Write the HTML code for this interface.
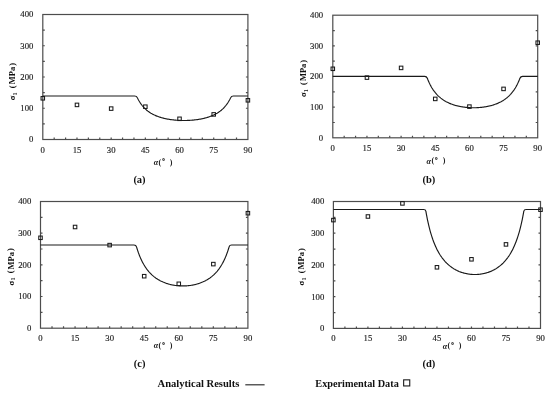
<!DOCTYPE html>
<html><head><meta charset="utf-8"><style>
html,body{margin:0;padding:0;background:#fff;}
svg{display:block;}
.t{font-family:"Liberation Serif",serif;font-size:8.8px;fill:#1a1a1a;stroke:#1a1a1a;stroke-width:0.15px;}
.yt{font-family:"Liberation Serif",serif;font-size:8.5px;font-weight:bold;fill:#111;}
.pr{font-weight:bold;font-size:8.5px;}
.xt{font-family:"Liberation Serif",serif;font-size:8px;font-weight:bold;fill:#222;}
.al{font-family:"Liberation Serif",serif;font-size:8px;font-style:italic;font-weight:bold;fill:#111;}
.deg{font-family:"Liberation Serif",serif;font-size:6.5px;font-weight:bold;fill:#555;stroke:#555;stroke-width:0.6px;}
.lab{font-family:"Liberation Serif",serif;font-size:10.5px;font-weight:bold;fill:#111;}
.leg{font-family:"Liberation Serif",serif;font-size:10.5px;font-weight:bold;fill:#111;}
</style></head><body>
<svg width="550" height="393" viewBox="0 0 550 393">
<rect width="550" height="393" fill="#fff"/>
<rect x="42.80" y="14.50" width="205.10" height="125.00" fill="none" stroke="#4d4d4d" stroke-width="1.2"/>
<path d="M54.19 139.50v-2M65.59 139.50v-2M76.98 139.50v-2M88.38 139.50v-2M99.77 139.50v-2M111.17 139.50v-2M122.56 139.50v-2M133.96 139.50v-2M145.35 139.50v-2M156.74 139.50v-2M168.14 139.50v-2M179.53 139.50v-2M190.93 139.50v-2M202.32 139.50v-2M213.72 139.50v-2M225.11 139.50v-2M236.51 139.50v-2M42.80 123.88h2M247.90 123.88h-2M42.80 108.25h2M247.90 108.25h-2M42.80 92.62h2M247.90 92.62h-2M42.80 77.00h2M247.90 77.00h-2M42.80 61.38h2M247.90 61.38h-2M42.80 45.75h2M247.90 45.75h-2M42.80 30.12h2M247.90 30.12h-2" fill="none" stroke="#4d4d4d" stroke-width="1.2"/>
<text transform="translate(42.80 152.80) scale(0.99 1)" text-anchor="middle" class="t">0</text>
<text transform="translate(76.98 152.80) scale(0.99 1)" text-anchor="middle" class="t">15</text>
<text transform="translate(111.17 152.80) scale(0.99 1)" text-anchor="middle" class="t">30</text>
<text transform="translate(145.35 152.80) scale(0.99 1)" text-anchor="middle" class="t">45</text>
<text transform="translate(179.53 152.80) scale(0.99 1)" text-anchor="middle" class="t">60</text>
<text transform="translate(213.72 152.80) scale(0.99 1)" text-anchor="middle" class="t">75</text>
<text transform="translate(247.90 152.80) scale(0.99 1)" text-anchor="middle" class="t">90</text>
<text transform="translate(33.42 142.45) scale(0.99 1)" text-anchor="end" class="t">0</text>
<text transform="translate(33.42 111.20) scale(0.99 1)" text-anchor="end" class="t">100</text>
<text transform="translate(33.42 79.95) scale(0.99 1)" text-anchor="end" class="t">200</text>
<text transform="translate(33.42 48.70) scale(0.99 1)" text-anchor="end" class="t">300</text>
<text transform="translate(33.42 17.45) scale(0.99 1)" text-anchor="end" class="t">400</text>
<path d="M42.80 96.00L134.57 96.00Q136.57 96.00 137.40 97.82L137.76 98.56L138.36 99.71L138.95 100.78L139.55 101.79L140.15 102.73L140.74 103.62L141.34 104.45L141.94 105.24L142.53 105.98L143.13 106.69L143.73 107.35L144.32 107.98L144.92 108.58L145.52 109.14L146.12 109.68L146.71 110.19L147.31 110.68L147.91 111.15L148.50 111.59L149.10 112.01L149.70 112.42L150.29 112.80L150.89 113.17L151.49 113.52L152.08 113.86L152.68 114.18L153.28 114.49L153.87 114.79L154.47 115.07L155.07 115.35L155.66 115.61L156.26 115.86L156.86 116.10L157.45 116.33L158.05 116.55L158.65 116.76L159.24 116.97L159.84 117.16L160.44 117.35L161.03 117.53L161.63 117.70L162.23 117.87L162.82 118.03L163.42 118.18L164.02 118.32L164.61 118.46L165.21 118.60L165.81 118.73L166.40 118.85L167.00 118.97L167.60 119.08L168.20 119.19L168.79 119.29L169.39 119.38L169.99 119.48L170.58 119.56L171.18 119.65L171.78 119.73L172.37 119.80L172.97 119.87L173.57 119.94L174.16 120.00L174.76 120.06L175.36 120.11L175.95 120.16L176.55 120.21L177.15 120.25L177.74 120.29L178.34 120.33L178.94 120.36L179.53 120.38L180.13 120.41L180.73 120.43L181.32 120.45L181.92 120.46L182.52 120.47L183.11 120.48L183.71 120.48L184.31 120.48L184.90 120.48L185.50 120.47L186.10 120.46L186.69 120.45L187.29 120.43L187.89 120.41L188.48 120.38L189.08 120.36L189.68 120.33L190.28 120.29L190.87 120.25L191.47 120.21L192.07 120.16L192.66 120.11L193.26 120.06L193.86 120.00L194.45 119.94L195.05 119.87L195.65 119.80L196.24 119.73L196.84 119.65L197.44 119.56L198.03 119.48L198.63 119.38L199.23 119.29L199.82 119.19L200.42 119.08L201.02 118.97L201.61 118.85L202.21 118.73L202.81 118.60L203.40 118.46L204.00 118.32L204.60 118.18L205.19 118.03L205.79 117.87L206.39 117.70L206.98 117.53L207.58 117.35L208.18 117.16L208.77 116.97L209.37 116.76L209.97 116.55L210.56 116.33L211.16 116.10L211.76 115.86L212.35 115.61L212.95 115.35L213.55 115.07L214.15 114.79L214.74 114.49L215.34 114.18L215.94 113.86L216.53 113.52L217.13 113.17L217.73 112.80L218.32 112.42L218.92 112.01L219.52 111.59L220.11 111.15L220.71 110.68L221.31 110.19L221.90 109.68L222.50 109.14L223.10 108.58L223.69 107.98L224.29 107.35L224.89 106.69L225.48 105.98L226.08 105.24L226.68 104.45L227.27 103.62L227.87 102.73L228.47 101.79L229.06 100.78L229.66 99.71L230.26 98.56L230.62 97.82Q231.45 96.00 233.45 96.00L247.90 96.00" fill="none" stroke="#1a1a1a" stroke-width="1.15" stroke-linejoin="round"/>
<rect x="41.05" y="96.55" width="3.5" height="3.5" fill="none" stroke="#1a1a1a" stroke-width="1.05"/>
<rect x="75.23" y="103.15" width="3.5" height="3.5" fill="none" stroke="#1a1a1a" stroke-width="1.05"/>
<rect x="109.42" y="106.85" width="3.5" height="3.5" fill="none" stroke="#1a1a1a" stroke-width="1.05"/>
<rect x="143.60" y="104.95" width="3.5" height="3.5" fill="none" stroke="#1a1a1a" stroke-width="1.05"/>
<rect x="177.78" y="117.05" width="3.5" height="3.5" fill="none" stroke="#1a1a1a" stroke-width="1.05"/>
<rect x="211.97" y="112.65" width="3.5" height="3.5" fill="none" stroke="#1a1a1a" stroke-width="1.05"/>
<rect x="246.15" y="98.55" width="3.5" height="3.5" fill="none" stroke="#1a1a1a" stroke-width="1.05"/>
<text transform="translate(15.40 100.20) rotate(-90)" class="yt">σ<tspan font-size="6" dy="1.5" dx="0.2">1</tspan><tspan dy="-2.2" dx="4.2" class="pr">(</tspan><tspan dy="0.7" dx="1.1">MPa</tspan><tspan dx="0.9" dy="-0.7" class="pr">)</tspan></text>
<text x="153.70" y="164.90" class="al">α</text>
<text x="158.60" y="164.65" class="xt">(</text>
<text x="162.20" y="163.20" class="deg">°</text>
<text x="169.85" y="164.65" class="xt">)</text>
<text x="139.50" y="183.00" text-anchor="middle" class="lab">(a)</text>
<rect x="332.80" y="15.20" width="204.90" height="122.60" fill="none" stroke="#4d4d4d" stroke-width="1.2"/>
<path d="M344.18 137.80v-2M355.57 137.80v-2M366.95 137.80v-2M378.33 137.80v-2M389.72 137.80v-2M401.10 137.80v-2M412.48 137.80v-2M423.87 137.80v-2M435.25 137.80v-2M446.63 137.80v-2M458.02 137.80v-2M469.40 137.80v-2M480.78 137.80v-2M492.17 137.80v-2M503.55 137.80v-2M514.93 137.80v-2M526.32 137.80v-2M332.80 122.48h2M537.70 122.48h-2M332.80 107.15h2M537.70 107.15h-2M332.80 91.83h2M537.70 91.83h-2M332.80 76.50h2M537.70 76.50h-2M332.80 61.18h2M537.70 61.18h-2M332.80 45.85h2M537.70 45.85h-2M332.80 30.53h2M537.70 30.53h-2" fill="none" stroke="#4d4d4d" stroke-width="1.2"/>
<text transform="translate(332.80 150.60) scale(0.99 1)" text-anchor="middle" class="t">0</text>
<text transform="translate(366.95 150.60) scale(0.99 1)" text-anchor="middle" class="t">15</text>
<text transform="translate(401.10 150.60) scale(0.99 1)" text-anchor="middle" class="t">30</text>
<text transform="translate(435.25 150.60) scale(0.99 1)" text-anchor="middle" class="t">45</text>
<text transform="translate(469.40 150.60) scale(0.99 1)" text-anchor="middle" class="t">60</text>
<text transform="translate(503.55 150.60) scale(0.99 1)" text-anchor="middle" class="t">75</text>
<text transform="translate(537.70 150.60) scale(0.99 1)" text-anchor="middle" class="t">90</text>
<text transform="translate(323.12 140.75) scale(0.99 1)" text-anchor="end" class="t">0</text>
<text transform="translate(323.12 110.10) scale(0.99 1)" text-anchor="end" class="t">100</text>
<text transform="translate(323.12 79.45) scale(0.99 1)" text-anchor="end" class="t">200</text>
<text transform="translate(323.12 48.80) scale(0.99 1)" text-anchor="end" class="t">300</text>
<text transform="translate(323.12 18.15) scale(0.99 1)" text-anchor="end" class="t">400</text>
<path d="M332.80 76.30L424.64 76.30Q426.64 76.30 427.32 78.18L427.82 79.50L428.41 80.94L429.00 82.30L429.59 83.57L430.18 84.76L430.78 85.89L431.37 86.95L431.96 87.95L432.55 88.90L433.14 89.80L433.73 90.65L434.32 91.46L434.91 92.22L435.50 92.95L436.10 93.65L436.69 94.31L437.28 94.94L437.87 95.54L438.46 96.11L439.05 96.66L439.64 97.18L440.23 97.68L440.82 98.16L441.42 98.62L442.01 99.06L442.60 99.48L443.19 99.88L443.78 100.27L444.37 100.64L444.96 101.00L445.55 101.34L446.14 101.67L446.74 101.98L447.33 102.28L447.92 102.57L448.51 102.85L449.10 103.12L449.69 103.37L450.28 103.62L450.87 103.86L451.46 104.08L452.06 104.30L452.65 104.51L453.24 104.71L453.83 104.90L454.42 105.09L455.01 105.26L455.60 105.43L456.19 105.59L456.78 105.75L457.38 105.90L457.97 106.04L458.56 106.17L459.15 106.30L459.74 106.42L460.33 106.54L460.92 106.65L461.51 106.75L462.10 106.85L462.69 106.94L463.29 107.03L463.88 107.11L464.47 107.19L465.06 107.26L465.65 107.33L466.24 107.39L466.83 107.44L467.42 107.49L468.01 107.54L468.61 107.58L469.20 107.62L469.79 107.65L470.38 107.68L470.97 107.70L471.56 107.72L472.15 107.74L472.74 107.74L473.33 107.75L473.93 107.75L474.52 107.74L475.11 107.74L475.70 107.72L476.29 107.70L476.88 107.68L477.47 107.65L478.06 107.62L478.65 107.58L479.25 107.54L479.84 107.49L480.43 107.44L481.02 107.39L481.61 107.33L482.20 107.26L482.79 107.19L483.38 107.11L483.97 107.03L484.57 106.94L485.16 106.85L485.75 106.75L486.34 106.65L486.93 106.54L487.52 106.42L488.11 106.30L488.70 106.17L489.29 106.04L489.89 105.90L490.48 105.75L491.07 105.59L491.66 105.43L492.25 105.26L492.84 105.09L493.43 104.90L494.02 104.71L494.61 104.51L495.20 104.30L495.80 104.08L496.39 103.86L496.98 103.62L497.57 103.37L498.16 103.12L498.75 102.85L499.34 102.57L499.93 102.28L500.52 101.98L501.12 101.67L501.71 101.34L502.30 101.00L502.89 100.64L503.48 100.27L504.07 99.88L504.66 99.48L505.25 99.06L505.84 98.62L506.44 98.16L507.03 97.68L507.62 97.18L508.21 96.66L508.80 96.11L509.39 95.54L509.98 94.94L510.57 94.31L511.16 93.65L511.76 92.95L512.35 92.22L512.94 91.46L513.53 90.65L514.12 89.80L514.71 88.90L515.30 87.95L515.89 86.95L516.48 85.89L517.08 84.76L517.67 83.57L518.26 82.30L518.85 80.94L519.44 79.50L519.94 78.18Q520.62 76.30 522.62 76.30L537.70 76.30" fill="none" stroke="#1a1a1a" stroke-width="1.15" stroke-linejoin="round"/>
<rect x="331.05" y="67.05" width="3.5" height="3.5" fill="none" stroke="#1a1a1a" stroke-width="1.05"/>
<rect x="365.20" y="75.85" width="3.5" height="3.5" fill="none" stroke="#1a1a1a" stroke-width="1.05"/>
<rect x="399.35" y="66.15" width="3.5" height="3.5" fill="none" stroke="#1a1a1a" stroke-width="1.05"/>
<rect x="433.50" y="97.15" width="3.5" height="3.5" fill="none" stroke="#1a1a1a" stroke-width="1.05"/>
<rect x="467.65" y="104.85" width="3.5" height="3.5" fill="none" stroke="#1a1a1a" stroke-width="1.05"/>
<rect x="501.80" y="87.15" width="3.5" height="3.5" fill="none" stroke="#1a1a1a" stroke-width="1.05"/>
<rect x="535.95" y="40.95" width="3.5" height="3.5" fill="none" stroke="#1a1a1a" stroke-width="1.05"/>
<text transform="translate(306.30 97.06) rotate(-90)" class="yt">σ<tspan font-size="6" dy="1.5" dx="0.2">1</tspan><tspan dy="-2.2" dx="4.2" class="pr">(</tspan><tspan dy="0.7" dx="1.1">MPa</tspan><tspan dx="0.9" dy="-0.7" class="pr">)</tspan></text>
<text x="426.50" y="163.70" class="al">α</text>
<text x="431.40" y="163.45" class="xt">(</text>
<text x="435.00" y="162.00" class="deg">°</text>
<text x="442.65" y="163.45" class="xt">)</text>
<text x="428.90" y="183.00" text-anchor="middle" class="lab">(b)</text>
<rect x="40.50" y="201.50" width="207.40" height="126.70" fill="none" stroke="#4d4d4d" stroke-width="1.2"/>
<path d="M52.02 328.20v-2M63.54 328.20v-2M75.07 328.20v-2M86.59 328.20v-2M98.11 328.20v-2M109.63 328.20v-2M121.16 328.20v-2M132.68 328.20v-2M144.20 328.20v-2M155.72 328.20v-2M167.24 328.20v-2M178.77 328.20v-2M190.29 328.20v-2M201.81 328.20v-2M213.33 328.20v-2M224.86 328.20v-2M236.38 328.20v-2M40.50 312.36h2M247.90 312.36h-2M40.50 296.52h2M247.90 296.52h-2M40.50 280.69h2M247.90 280.69h-2M40.50 264.85h2M247.90 264.85h-2M40.50 249.01h2M247.90 249.01h-2M40.50 233.18h2M247.90 233.18h-2M40.50 217.34h2M247.90 217.34h-2" fill="none" stroke="#4d4d4d" stroke-width="1.2"/>
<text transform="translate(40.50 341.40) scale(0.99 1)" text-anchor="middle" class="t">0</text>
<text transform="translate(75.07 341.40) scale(0.99 1)" text-anchor="middle" class="t">15</text>
<text transform="translate(109.63 341.40) scale(0.99 1)" text-anchor="middle" class="t">30</text>
<text transform="translate(144.20 341.40) scale(0.99 1)" text-anchor="middle" class="t">45</text>
<text transform="translate(178.77 341.40) scale(0.99 1)" text-anchor="middle" class="t">60</text>
<text transform="translate(213.33 341.40) scale(0.99 1)" text-anchor="middle" class="t">75</text>
<text transform="translate(247.90 341.40) scale(0.99 1)" text-anchor="middle" class="t">90</text>
<text transform="translate(31.32 331.15) scale(0.99 1)" text-anchor="end" class="t">0</text>
<text transform="translate(31.32 299.47) scale(0.99 1)" text-anchor="end" class="t">100</text>
<text transform="translate(31.32 267.80) scale(0.99 1)" text-anchor="end" class="t">200</text>
<text transform="translate(31.32 236.12) scale(0.99 1)" text-anchor="end" class="t">300</text>
<text transform="translate(31.32 204.45) scale(0.99 1)" text-anchor="end" class="t">400</text>
<path d="M40.50 245.00L134.00 245.00Q136.00 245.00 136.55 246.92L136.59 247.07L137.18 249.01L137.77 250.83L138.35 252.54L138.94 254.15L139.53 255.67L140.12 257.11L140.71 258.47L141.30 259.76L141.89 260.98L142.48 262.14L143.07 263.24L143.65 264.29L144.24 265.28L144.83 266.23L145.42 267.14L146.01 268.00L146.60 268.83L147.19 269.62L147.78 270.37L148.37 271.09L148.95 271.79L149.54 272.45L150.13 273.08L150.72 273.69L151.31 274.27L151.90 274.83L152.49 275.36L153.08 275.88L153.67 276.37L154.25 276.85L154.84 277.30L155.43 277.74L156.02 278.16L156.61 278.56L157.20 278.95L157.79 279.33L158.38 279.68L158.97 280.03L159.55 280.36L160.14 280.68L160.73 280.98L161.32 281.28L161.91 281.56L162.50 281.83L163.09 282.09L163.68 282.33L164.27 282.57L164.85 282.80L165.44 283.02L166.03 283.23L166.62 283.43L167.21 283.62L167.80 283.80L168.39 283.97L168.98 284.14L169.57 284.29L170.15 284.44L170.74 284.58L171.33 284.72L171.92 284.84L172.51 284.96L173.10 285.07L173.69 285.18L174.28 285.27L174.87 285.37L175.45 285.45L176.04 285.53L176.63 285.60L177.22 285.66L177.81 285.72L178.40 285.77L178.99 285.81L179.58 285.85L180.17 285.88L180.75 285.90L181.34 285.92L181.93 285.94L182.52 285.94L183.11 285.94L183.70 285.94L184.29 285.92L184.88 285.90L185.47 285.88L186.05 285.85L186.64 285.81L187.23 285.77L187.82 285.72L188.41 285.66L189.00 285.60L189.59 285.53L190.18 285.45L190.77 285.37L191.35 285.27L191.94 285.18L192.53 285.07L193.12 284.96L193.71 284.84L194.30 284.72L194.89 284.58L195.48 284.44L196.07 284.29L196.65 284.14L197.24 283.97L197.83 283.80L198.42 283.62L199.01 283.43L199.60 283.23L200.19 283.02L200.78 282.80L201.37 282.57L201.95 282.33L202.54 282.09L203.13 281.83L203.72 281.56L204.31 281.28L204.90 280.98L205.49 280.68L206.08 280.36L206.67 280.03L207.25 279.68L207.84 279.33L208.43 278.95L209.02 278.56L209.61 278.16L210.20 277.74L210.79 277.30L211.38 276.85L211.97 276.37L212.55 275.88L213.14 275.36L213.73 274.83L214.32 274.27L214.91 273.69L215.50 273.08L216.09 272.45L216.68 271.79L217.27 271.09L217.85 270.37L218.44 269.62L219.03 268.83L219.62 268.00L220.21 267.14L220.80 266.23L221.39 265.28L221.98 264.29L222.57 263.24L223.15 262.14L223.74 260.98L224.33 259.76L224.92 258.47L225.51 257.11L226.10 255.67L226.69 254.15L227.28 252.54L227.87 250.83L228.45 249.01L229.04 247.07L229.08 246.92Q229.63 245.00 231.63 245.00L247.90 245.00" fill="none" stroke="#1a1a1a" stroke-width="1.15" stroke-linejoin="round"/>
<rect x="38.75" y="236.05" width="3.5" height="3.5" fill="none" stroke="#1a1a1a" stroke-width="1.05"/>
<rect x="73.32" y="225.25" width="3.5" height="3.5" fill="none" stroke="#1a1a1a" stroke-width="1.05"/>
<rect x="107.88" y="243.35" width="3.5" height="3.5" fill="none" stroke="#1a1a1a" stroke-width="1.05"/>
<rect x="142.45" y="274.45" width="3.5" height="3.5" fill="none" stroke="#1a1a1a" stroke-width="1.05"/>
<rect x="177.02" y="282.05" width="3.5" height="3.5" fill="none" stroke="#1a1a1a" stroke-width="1.05"/>
<rect x="211.58" y="262.35" width="3.5" height="3.5" fill="none" stroke="#1a1a1a" stroke-width="1.05"/>
<rect x="246.15" y="211.45" width="3.5" height="3.5" fill="none" stroke="#1a1a1a" stroke-width="1.05"/>
<text transform="translate(13.70 285.38) rotate(-90)" class="yt">σ<tspan font-size="6" dy="1.5" dx="0.2">1</tspan><tspan dy="-2.2" dx="4.2" class="pr">(</tspan><tspan dy="0.7" dx="1.1">MPa</tspan><tspan dx="0.9" dy="-0.7" class="pr">)</tspan></text>
<text x="153.70" y="348.40" class="al">α</text>
<text x="158.60" y="348.15" class="xt">(</text>
<text x="162.20" y="346.70" class="deg">°</text>
<text x="169.85" y="348.15" class="xt">)</text>
<text x="139.60" y="366.70" text-anchor="middle" class="lab">(c)</text>
<rect x="333.40" y="201.50" width="207.10" height="126.90" fill="none" stroke="#4d4d4d" stroke-width="1.2"/>
<path d="M344.91 328.40v-2M356.41 328.40v-2M367.92 328.40v-2M379.42 328.40v-2M390.93 328.40v-2M402.43 328.40v-2M413.94 328.40v-2M425.44 328.40v-2M436.95 328.40v-2M448.46 328.40v-2M459.96 328.40v-2M471.47 328.40v-2M482.97 328.40v-2M494.48 328.40v-2M505.98 328.40v-2M517.49 328.40v-2M528.99 328.40v-2M333.40 312.54h2M540.50 312.54h-2M333.40 296.68h2M540.50 296.68h-2M333.40 280.81h2M540.50 280.81h-2M333.40 264.95h2M540.50 264.95h-2M333.40 249.09h2M540.50 249.09h-2M333.40 233.22h2M540.50 233.22h-2M333.40 217.36h2M540.50 217.36h-2" fill="none" stroke="#4d4d4d" stroke-width="1.2"/>
<text transform="translate(333.40 341.30) scale(0.99 1)" text-anchor="middle" class="t">0</text>
<text transform="translate(367.92 341.30) scale(0.99 1)" text-anchor="middle" class="t">15</text>
<text transform="translate(402.43 341.30) scale(0.99 1)" text-anchor="middle" class="t">30</text>
<text transform="translate(436.95 341.30) scale(0.99 1)" text-anchor="middle" class="t">45</text>
<text transform="translate(471.47 341.30) scale(0.99 1)" text-anchor="middle" class="t">60</text>
<text transform="translate(505.98 341.30) scale(0.99 1)" text-anchor="middle" class="t">75</text>
<text transform="translate(540.50 341.30) scale(0.99 1)" text-anchor="middle" class="t">90</text>
<text transform="translate(324.32 331.35) scale(0.99 1)" text-anchor="end" class="t">0</text>
<text transform="translate(324.32 299.62) scale(0.99 1)" text-anchor="end" class="t">100</text>
<text transform="translate(324.32 267.90) scale(0.99 1)" text-anchor="end" class="t">200</text>
<text transform="translate(324.32 236.17) scale(0.99 1)" text-anchor="end" class="t">300</text>
<text transform="translate(324.32 204.45) scale(0.99 1)" text-anchor="end" class="t">400</text>
<path d="M333.40 209.50L423.58 209.50Q425.58 209.50 425.92 211.47L426.20 213.11L426.82 216.45L427.44 219.56L428.06 222.47L428.68 225.18L429.30 227.71L429.92 230.09L430.54 232.33L431.16 234.43L431.78 236.42L432.40 238.29L433.01 240.06L433.63 241.73L434.25 243.31L434.87 244.82L435.49 246.24L436.11 247.60L436.73 248.89L437.35 250.12L437.97 251.28L438.59 252.40L439.21 253.46L439.83 254.48L440.45 255.45L441.07 256.37L441.69 257.26L442.31 258.10L442.93 258.91L443.55 259.69L444.17 260.43L444.79 261.15L445.41 261.83L446.03 262.48L446.65 263.11L447.27 263.71L447.89 264.29L448.51 264.84L449.13 265.37L449.75 265.88L450.37 266.37L450.98 266.84L451.60 267.29L452.22 267.72L452.84 268.13L453.46 268.53L454.08 268.91L454.70 269.27L455.32 269.62L455.94 269.95L456.56 270.27L457.18 270.58L457.80 270.87L458.42 271.14L459.04 271.41L459.66 271.66L460.28 271.90L460.90 272.12L461.52 272.34L462.14 272.54L462.76 272.74L463.38 272.92L464.00 273.09L464.62 273.25L465.24 273.40L465.86 273.54L466.48 273.67L467.10 273.79L467.72 273.90L468.33 274.00L468.95 274.09L469.57 274.18L470.19 274.25L470.81 274.31L471.43 274.37L472.05 274.41L472.67 274.45L473.29 274.47L473.91 274.49L474.53 274.50L475.15 274.50L475.77 274.49L476.39 274.47L477.01 274.45L477.63 274.41L478.25 274.37L478.87 274.31L479.49 274.25L480.11 274.18L480.73 274.09L481.35 274.00L481.97 273.90L482.59 273.79L483.21 273.67L483.83 273.54L484.45 273.40L485.07 273.25L485.69 273.09L486.30 272.92L486.92 272.74L487.54 272.54L488.16 272.34L488.78 272.12L489.40 271.90L490.02 271.66L490.64 271.41L491.26 271.14L491.88 270.87L492.50 270.58L493.12 270.27L493.74 269.95L494.36 269.62L494.98 269.27L495.60 268.91L496.22 268.53L496.84 268.13L497.46 267.72L498.08 267.29L498.70 266.84L499.32 266.37L499.94 265.88L500.56 265.37L501.18 264.84L501.80 264.29L502.42 263.71L503.04 263.11L503.66 262.48L504.27 261.83L504.89 261.15L505.51 260.43L506.13 259.69L506.75 258.91L507.37 258.10L507.99 257.26L508.61 256.37L509.23 255.45L509.85 254.48L510.47 253.46L511.09 252.40L511.71 251.28L512.33 250.12L512.95 248.89L513.57 247.60L514.19 246.24L514.81 244.82L515.43 243.31L516.05 241.73L516.67 240.06L517.29 238.29L517.91 236.42L518.53 234.43L519.15 232.33L519.77 230.09L520.39 227.71L521.01 225.18L521.62 222.47L522.24 219.56L522.86 216.45L523.48 213.11L523.76 211.47Q524.10 209.50 526.10 209.50L540.50 209.50" fill="none" stroke="#1a1a1a" stroke-width="1.15" stroke-linejoin="round"/>
<rect x="331.65" y="218.35" width="3.5" height="3.5" fill="none" stroke="#1a1a1a" stroke-width="1.05"/>
<rect x="366.17" y="214.75" width="3.5" height="3.5" fill="none" stroke="#1a1a1a" stroke-width="1.05"/>
<rect x="400.68" y="201.65" width="3.5" height="3.5" fill="none" stroke="#1a1a1a" stroke-width="1.05"/>
<rect x="435.20" y="265.55" width="3.5" height="3.5" fill="none" stroke="#1a1a1a" stroke-width="1.05"/>
<rect x="469.72" y="257.55" width="3.5" height="3.5" fill="none" stroke="#1a1a1a" stroke-width="1.05"/>
<rect x="504.23" y="242.65" width="3.5" height="3.5" fill="none" stroke="#1a1a1a" stroke-width="1.05"/>
<rect x="538.75" y="207.95" width="3.5" height="3.5" fill="none" stroke="#1a1a1a" stroke-width="1.05"/>
<text transform="translate(304.30 285.38) rotate(-90)" class="yt">σ<tspan font-size="6" dy="1.5" dx="0.2">1</tspan><tspan dy="-2.2" dx="4.2" class="pr">(</tspan><tspan dy="0.7" dx="1.1">MPa</tspan><tspan dx="0.9" dy="-0.7" class="pr">)</tspan></text>
<text x="442.70" y="348.60" class="al">α</text>
<text x="447.60" y="348.35" class="xt">(</text>
<text x="451.20" y="346.90" class="deg">°</text>
<text x="458.85" y="348.35" class="xt">)</text>
<text x="428.90" y="366.70" text-anchor="middle" class="lab">(d)</text>
<text x="157.5" y="387" class="leg" textLength="81.9" lengthAdjust="spacingAndGlyphs">Analytical Results</text>
<path d="M245.3 384.8H264.6" stroke="#333" stroke-width="1.2"/>
<text x="315.3" y="387" class="leg" textLength="83.5" lengthAdjust="spacingAndGlyphs">Experimental Data</text>
<rect x="403.65" y="379.85" width="6.1" height="6.1" fill="none" stroke="#1a1a1a" stroke-width="1.1"/>
</svg>
</body></html>
